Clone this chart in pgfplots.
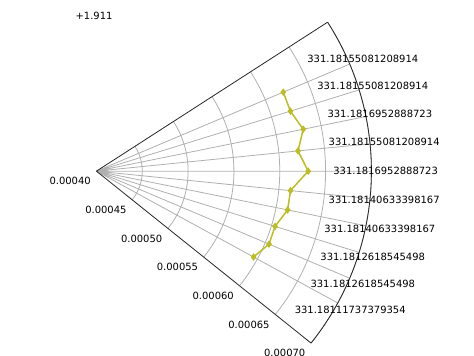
\documentclass[border=0pt]{standalone}
\usepackage{pgfplots}
\pgfplotsset{compat=1.18}
\usepgfplotslibrary{polar}
\usepackage{fontspec}
\setmainfont{DejaVu Sans}
\definecolor{lineolive}{HTML}{BCBD22}
\definecolor{gridgray}{HTML}{B0B0B0}
\tikzset{thl/.style={anchor=center, inner sep=0pt},
  rl/.style={anchor=center, inner sep=0pt, xshift=-26.3bp, yshift=-10.2bp}}
\begin{document}
\fontsize{10}{12}\selectfont
\begin{tikzpicture}[x=1bp,y=1bp]
\useasboundingbox (0,0) rectangle (474,-355);
\node at (94,-16) {+1.911};
\begin{polaraxis}[
  at={(105.2,-186.7)}, anchor=origin,
  scale only axis, width=550bp, height=550bp,
  xmin=-38.7, xmax=32.8, ymin=0, ymax=3,
  xtick={-28.648,-22.918,-17.189,-11.459,-5.730,0,5.730,11.459,17.189,22.918},
  ytick={0.5,1,1.5,2,2.5,3},
  xticklabels={}, yticklabels={},
  major tick length=0pt,
  grid=major,
  grid style={gridgray, line width=0.8bp},
  axis line style={black!85, line width=0.8bp},
  clip=false,
]
\addplot[lineolive, line width=1.5bp, mark=diamond*, mark size=2.6bp, mark options={fill=lineolive}]
  table[x=theta, y expr=(\thisrow{r}-0.0004)*10000] {
theta r
22.918 0.0006213
17.189 0.0006215
11.459 0.0006302
5.730 0.0006210
0 0.0006310
-5.730 0.0006128
-11.459 0.0006128
-17.189 0.0006040
-22.918 0.0006044
-28.648 0.0005953
};
\node[thl] at (axis cs:22.918,3.155) {331.18155081208914};
\node[thl] at (axis cs:17.189,3.155) {331.18155081208914};
\node[thl] at (axis cs:11.459,3.155) {331.1816952888723};
\node[thl] at (axis cs:5.730,3.155) {331.18155081208914};
\node[thl] at (axis cs:0,3.155) {331.1816952888723};
\node[thl] at (axis cs:-5.730,3.155) {331.18140633398167};
\node[thl] at (axis cs:-11.459,3.155) {331.18140633398167};
\node[thl] at (axis cs:-17.189,3.155) {331.1812618545498};
\node[thl] at (axis cs:-22.918,3.155) {331.1812618545498};
\node[thl] at (axis cs:-28.648,3.155) {331.18111737379354};
\node[rl] at (axis cs:-38.7,0) {0.00040};
\node[rl] at (axis cs:-38.7,0.5) {0.00045};
\node[rl] at (axis cs:-38.7,1) {0.00050};
\node[rl] at (axis cs:-38.7,1.5) {0.00055};
\node[rl] at (axis cs:-38.7,2) {0.00060};
\node[rl] at (axis cs:-38.7,2.5) {0.00065};
\node[rl] at (axis cs:-38.7,3) {0.00070};
\end{polaraxis}
\end{tikzpicture}
\end{document}
